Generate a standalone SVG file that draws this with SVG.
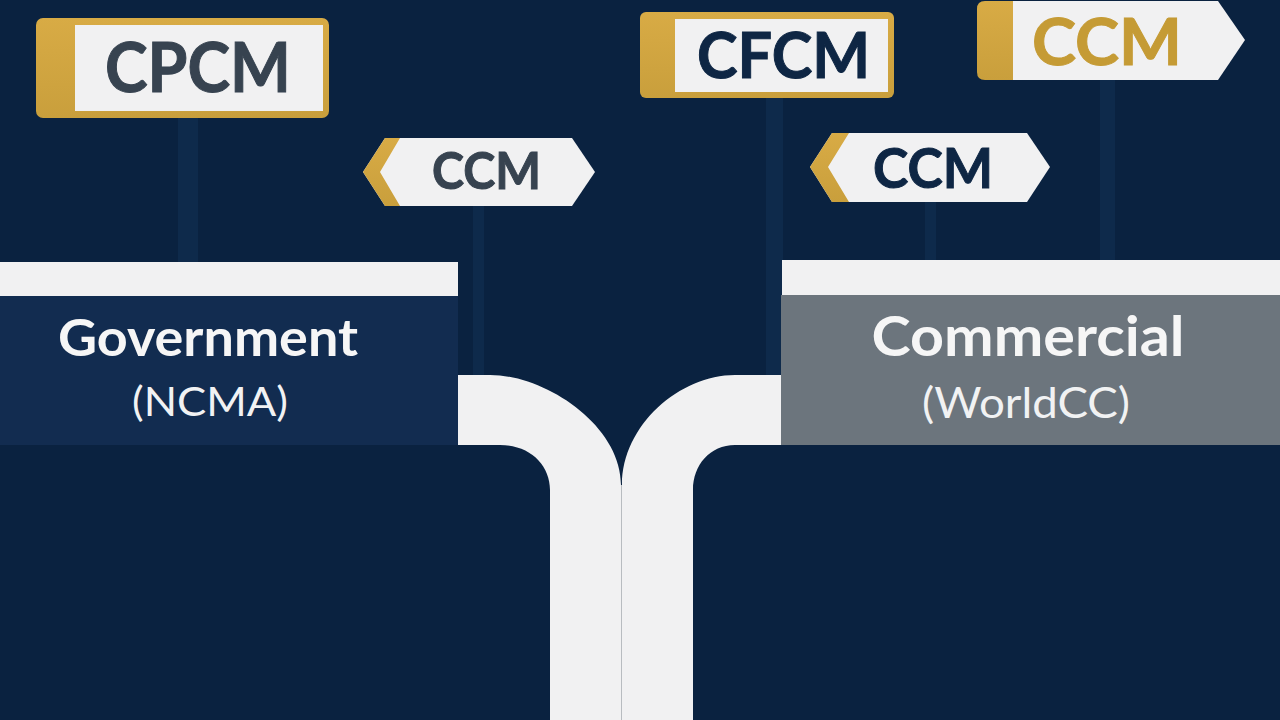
<svg xmlns="http://www.w3.org/2000/svg" width="1280" height="720" viewBox="0 0 1280 720">
<defs>
<linearGradient id="gold" x1="0" y1="0" x2="0" y2="1"><stop offset="0" stop-color="#d8ab45"/><stop offset="1" stop-color="#c99f3c"/></linearGradient>
</defs>
<style>
text{font-family:"Lato","Noto Sans",sans-serif;text-anchor:middle}
.b{font-weight:700;stroke-width:1}
.gold{fill:url(#gold)}
.white{fill:#f1f1f2}
.post{fill:#0e2a4b}
.dark{fill:#374350;stroke:#374350}
.navy{fill:#0e2644;stroke:#0e2644}
.sub{fill:#f1f2f3;font-weight:400}
.hd{fill:#f6f6f6;font-weight:700}
</style>
<rect width="1280" height="720" fill="#0a2240"/>
<g id="connectors">
<rect class="post" x="178" y="118" width="20" height="144"/>
<rect class="post" x="473" y="206" width="11" height="170"/>
<rect class="post" x="766" y="98" width="17" height="277"/>
<rect class="post" x="925" y="202" width="11" height="58"/>
<rect class="post" x="1100" y="80" width="15" height="180"/>
</g>
<g id="government">
<rect x="0" y="296" width="458" height="149" fill="#122c50"/>
<rect class="white" x="0" y="262" width="458" height="34"/>
<text class="hd" x="208" y="356" font-size="52" textLength="300" lengthAdjust="spacingAndGlyphs">Government</text>
<text class="sub" x="210" y="416" font-size="41" textLength="156" lengthAdjust="spacingAndGlyphs">(NCMA)</text>
</g>
<g id="commercial">
<rect x="781" y="295" width="499" height="150" fill="#6c757d"/>
<rect class="white" x="782" y="260" width="498" height="35"/>
<text class="hd" x="1028" y="356" font-size="56" textLength="313" lengthAdjust="spacingAndGlyphs">Commercial</text>
<text class="sub" x="1026" y="418" font-size="43" textLength="208" lengthAdjust="spacingAndGlyphs">(WorldCC)</text>
</g>
<g id="path-left">
<path class="white" d="M458 375H490C545 375 621 425 621 485V720H550V490C550 465 530 445 500 445H458Z"/>
</g>
<g id="path-right">
<path class="white" d="M781 375H735C680 375 622 425 622 485V720H693V490C693 465 710 445 735 445H781Z"/>
<rect x="621" y="485" width="1" height="235" fill="#b8bcc0"/>
</g>
<g id="sign-cpcm">
<rect class="gold" x="36" y="18" width="293" height="100" rx="7"/>
<rect class="white" x="75" y="25" width="248" height="86"/>
<text class="b dark" x="198" y="92" font-size="68" textLength="186" lengthAdjust="spacingAndGlyphs">CPCM</text>
</g>
<g id="sign-ccm-left">
<path class="white" d="M363 172L385 138H572L595 172L572 206H385Z"/>
<path class="gold" d="M363 172L385 138H400L380 172L400 206H385Z"/>
<text class="b dark" x="486.500" y="189" font-size="52" textLength="109" lengthAdjust="spacingAndGlyphs">CCM</text>
</g>
<g id="sign-cfcm">
<rect class="gold" x="640" y="12" width="254" height="86" rx="6"/>
<rect class="white" x="675" y="19" width="213" height="73"/>
<text class="b navy" x="783.500" y="78" font-size="64" textLength="173" lengthAdjust="spacingAndGlyphs">CFCM</text>
</g>
<g id="sign-ccm-top">
<path class="white" d="M985 1H1218L1245 40L1218 80H985Z"/>
<path class="gold" d="M1013 1V80H985Q977 80 977 72V9Q977 1 985 1Z"/>
<text class="b" x="1107" y="65" font-size="65" textLength="150" lengthAdjust="spacingAndGlyphs" fill="#c59b35" stroke="#c59b35">CCM</text>
</g>
<g id="sign-ccm-right">
<path class="white" d="M810 167L832 133H1027L1050 167L1027 202H832Z"/>
<path class="gold" d="M810 167L832 133H849L828 167L849 202H832Z"/>
<text class="b navy" x="933" y="188" font-size="56" textLength="120" lengthAdjust="spacingAndGlyphs">CCM</text>
</g>
</svg>
